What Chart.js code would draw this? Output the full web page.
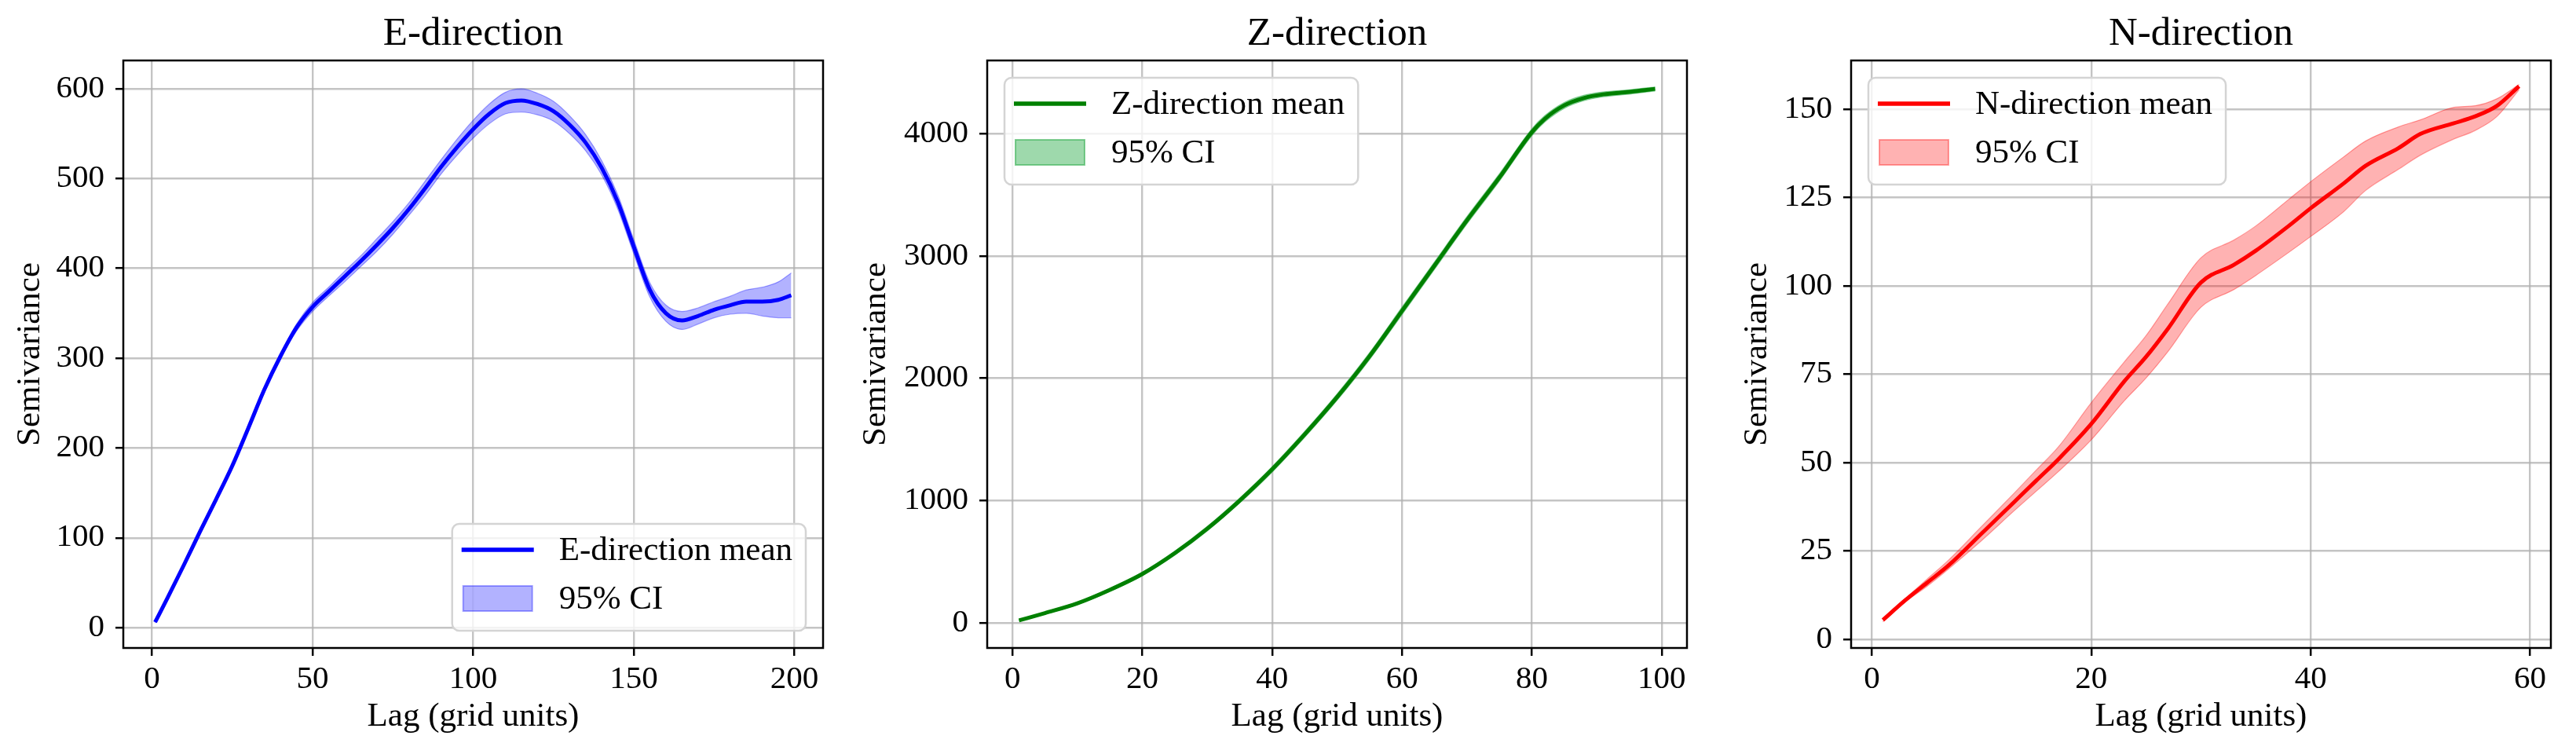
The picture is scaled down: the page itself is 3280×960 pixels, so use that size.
<!DOCTYPE html>
<html lang="en">
<head>
<meta charset="UTF-8">
<title>Directional semivariograms</title>
<script src="https://cdn.jsdelivr.net/npm/chart.js"></script>
<style>
    body { margin: 0; background: #fff; }
    #wrap { position: relative; width: 3280px; height: 960px; background: #fff; }
    #wrap canvas { position: absolute; top: 0; }
</style>
</head>
<body>
<div id="wrap">
    <canvas id="chartE" width="1075" height="960" style="left:3px"></canvas>
    <canvas id="chartZ" width="1098" height="960" style="left:1080px"></canvas>
    <canvas id="chartN" width="1076" height="960" style="left:2202px"></canvas>
</div>

<script>
// --- E-direction ---
const eLag  = [1, 5, 10, 15, 20, 25, 30, 35, 40, 45, 50, 55, 60, 65, 70, 75, 80, 85, 90, 95, 100,
               105, 110, 115, 120, 125, 130, 135, 140, 145, 150, 155, 160, 165, 170, 175, 180, 185, 190, 195, 199];
const eMean = [6, 34, 70, 107, 143, 180, 222, 265, 302, 334, 357, 374, 391, 408, 426, 445, 466, 489, 513, 535, 555,
               572, 584, 587, 583, 575, 560, 540, 512, 474, 424, 376, 350, 342, 347, 354, 359, 363, 363, 365, 370];
const eLow  = [5, 33, 69, 106, 141.5, 178.5, 220, 263, 299.5, 330, 352, 369, 385, 402, 419, 438, 459, 481, 505, 526, 545,
               561, 572, 574, 571, 564, 550, 531, 504, 466, 416, 368, 341, 332, 338, 345, 349, 350, 347, 345, 345];
const eHigh = [7, 35, 71, 108, 144.5, 181.5, 224, 267, 304.5, 338, 362, 379, 397, 414, 433, 452, 473, 497, 521, 544, 565,
               583, 596, 600, 595, 586, 570, 549, 520, 482, 432, 384, 359, 352, 356, 363, 369, 376, 379, 385, 395];
const eTicksX = [0, 50, 100, 150, 200];
const eTicksY = [0, 100, 200, 300, 400, 500, 600];

// --- Z-direction ---
const zLag  = [1, 5, 10, 15, 20, 25, 30, 35, 40, 45, 50, 55, 60, 65, 70, 75, 80, 82, 85, 88, 91, 95, 99];
const zMean = [20, 80, 160, 270, 400, 570, 770, 1000, 1255, 1540, 1845, 2180, 2550, 2920, 3290, 3640, 4010, 4120, 4230, 4290, 4320, 4340, 4365];
const zLow  = [14, 72, 150, 258, 386, 554, 752, 980, 1233, 1516, 1819, 2152, 2520, 2890, 3260, 3610, 3982, 4094, 4206, 4268, 4300, 4322, 4348];
const zHigh = [26, 88, 170, 282, 414, 586, 788, 1020, 1277, 1564, 1871, 2208, 2580, 2950, 3320, 3670, 4038, 4146, 4254, 4312, 4340, 4358, 4380];
const zTicksX = [0, 20, 40, 60, 80, 100];
const zTicksY = [0, 1000, 2000, 3000, 4000];

// --- N-direction ---
const nLag  = [1, 3, 5, 7, 10, 13, 15, 17, 20, 23, 25, 27, 30, 33, 35, 38, 40, 43, 45, 48, 50, 53, 55, 57, 59];
const nMean = [5.5, 11, 16, 21, 30, 39, 45, 51, 61, 73, 80, 88, 101, 106, 110, 117, 122, 129, 134, 139, 143, 146, 148, 151, 156.5];
const nLow  = [5, 10.5, 15, 20, 28, 36.5, 42, 47.5, 56.5, 67.5, 74, 81.5, 94, 99, 103, 109.5, 114, 121, 127, 133, 137, 141.5, 144, 148, 155.5];
const nHigh = [6, 11.5, 17, 22.5, 32, 41.5, 48, 54.5, 67, 78.5, 86, 95, 108, 113, 117, 124.5, 129.5, 136.5, 141, 145, 147, 150.5, 151, 153, 157];
const nTicksX = [0, 20, 40, 60];
const nTicksY = [0, 25, 50, 75, 100, 125, 150];

const SERIF = "'Liberation Serif', 'Times New Roman', serif";
Chart.defaults.font.family = SERIF;
Chart.defaults.color = '#000';

// frame round the plot area (matplotlib spines)
const framePlugin = {
    id: 'frame',
    afterDatasetsDraw(chart) {
        const { ctx, chartArea: a } = chart;
        ctx.save();
        ctx.strokeStyle = '#000';
        ctx.lineWidth = 2.5;
        ctx.strokeRect(a.left, a.top, a.right - a.left, a.bottom - a.top);
        ctx.restore();
    }
};

// legend inside the axes, like matplotlib's
function insetLegend(loc) {
    return {
        id: 'insetLegend',
        afterDatasetsDraw(chart) {
            const { ctx, chartArea: a } = chart;
            const mean = chart.data.datasets[0];
            const band = chart.data.datasets[2];
            ctx.save();
            ctx.font = '43px ' + SERIF;
            const textW = Math.max(ctx.measureText(mean.label).width, ctx.measureText(band.label).width);
            const w = 136 + textW + 17, h = 136;
            const x = loc === 'lower right' ? a.right - 22 - w : a.left + 22;
            const y = loc === 'lower right' ? a.bottom - 22 - h : a.top + 22;

            ctx.beginPath();
            ctx.roundRect(x, y, w, h, 9);
            ctx.fillStyle = 'rgba(255,255,255,0.8)';
            ctx.fill();
            ctx.strokeStyle = '#d4d4d4';
            ctx.lineWidth = 2.5;
            ctx.stroke();

            const r1 = y + 33, r2 = y + 95;
            ctx.strokeStyle = mean.borderColor;
            ctx.lineWidth = 5.5;
            ctx.beginPath();
            ctx.moveTo(x + 12, r1);
            ctx.lineTo(x + 104, r1);
            ctx.stroke();

            ctx.fillStyle = band.backgroundColor;
            ctx.fillRect(x + 14, r2 - 16, 88, 32);
            ctx.strokeStyle = band.borderColor;
            ctx.lineWidth = 2;
            ctx.strokeRect(x + 14, r2 - 16, 88, 32);

            ctx.fillStyle = '#000';
            ctx.textAlign = 'left';
            ctx.textBaseline = 'middle';
            ctx.fillText(mean.label, x + 136, r1 + 2);
            ctx.fillText(band.label, x + 136, r2 + 2);
            ctx.restore();
        }
    };
}

function pts(xs, ys) {
    return xs.map((x, i) => ({ x: x, y: ys[i] }));
}

function makePanel(id, p) {
    const gridStyle = {
        color: 'rgba(176,176,176,0.75)',
        lineWidth: 2.4,
        drawTicks: true,
        tickLength: 10,
        tickColor: '#000',
        tickWidth: 2.5
    };
    new Chart(document.getElementById(id), {
        type: 'line',
        data: {
            datasets: [
                {
                    label: p.name + ' mean',
                    data: pts(p.lag, p.mean),
                    borderColor: p.color,
                    borderWidth: 5,
                    pointRadius: 0,
                    cubicInterpolationMode: 'monotone',
                    fill: false
                },
                {
                    label: 'lower',
                    data: pts(p.lag, p.low),
                    borderColor: p.bandEdge,
                    borderWidth: 1.2,
                    pointRadius: 0,
                    cubicInterpolationMode: 'monotone',
                    fill: false
                },
                {
                    label: '95% CI',
                    data: pts(p.lag, p.high),
                    borderColor: p.bandEdge,
                    backgroundColor: p.band,
                    borderWidth: 1.2,
                    pointRadius: 0,
                    cubicInterpolationMode: 'monotone',
                    fill: 1
                }
            ]
        },
        options: {
            responsive: false,
            animation: false,
            layout: { padding: { left: 0, right: 30, top: 0, bottom: 0 } },
            plugins: {
                legend: { display: false },
                tooltip: { enabled: false },
                title: {
                    display: true,
                    text: p.name,
                    fullSize: false,
                    color: '#000',
                    font: { size: 51, weight: 'normal' },
                    padding: { top: 13.5, bottom: 2.3 }
                }
            },
            scales: {
                x: {
                    type: 'linear',
                    min: p.xRange[0],
                    max: p.xRange[1],
                    afterBuildTicks: axis => { axis.ticks = p.ticksX.map(v => ({ value: v })); },
                    afterFit: axis => { axis.height = 135; },
                    grid: gridStyle,
                    border: { display: false },
                    ticks: { font: { size: 41 }, padding: 6, maxRotation: 0, callback: v => String(v) },
                    title: {
                        display: true,
                        text: 'Lag (grid units)',
                        font: { size: 43 },
                        padding: { top: 0, bottom: 21 }
                    }
                },
                y: {
                    type: 'linear',
                    min: p.yRange[0],
                    max: p.yRange[1],
                    afterBuildTicks: axis => { axis.ticks = p.ticksY.map(v => ({ value: v })); },
                    afterFit: axis => { axis.width = p.axisW; },
                    grid: gridStyle,
                    border: { display: false },
                    ticks: { font: { size: 41 }, padding: 14, callback: v => String(v) },
                    title: {
                        display: true,
                        text: 'Semivariance',
                        font: { size: 43 },
                        padding: { top: 10, bottom: 0 }
                    }
                }
            }
        },
        plugins: [framePlugin, insetLegend(p.legendLoc)]
    });
}

makePanel('chartE', {
    name: 'E-direction', lag: eLag, mean: eMean, low: eLow, high: eHigh,
    ticksX: eTicksX, ticksY: eTicksY, xRange: [-8.9, 208.9], yRange: [-22.7, 631.5],
    color: '#0000ff', band: 'rgba(0,0,255,0.3)', bandEdge: 'rgba(0,0,255,0.35)',
    axisW: 154, legendLoc: 'lower right'
});
makePanel('chartZ', {
    name: 'Z-direction', lag: zLag, mean: zMean, low: zLow, high: zHigh,
    ticksX: zTicksX, ticksY: zTicksY, xRange: [-3.9, 103.9], yRange: [-205, 4597],
    color: '#008000', band: 'rgba(40,170,70,0.45)', bandEdge: 'rgba(40,170,70,0.55)',
    axisW: 177, legendLoc: 'upper left'
});
makePanel('chartN', {
    name: 'N-direction', lag: nLag, mean: nMean, low: nLow, high: nHigh,
    ticksX: nTicksX, ticksY: nTicksY, xRange: [-1.9, 61.9], yRange: [-2.4, 163.8],
    color: '#ff0000', band: 'rgba(255,0,0,0.3)', bandEdge: 'rgba(255,0,0,0.35)',
    axisW: 155, legendLoc: 'upper left'
});
</script>
</body>
</html>
